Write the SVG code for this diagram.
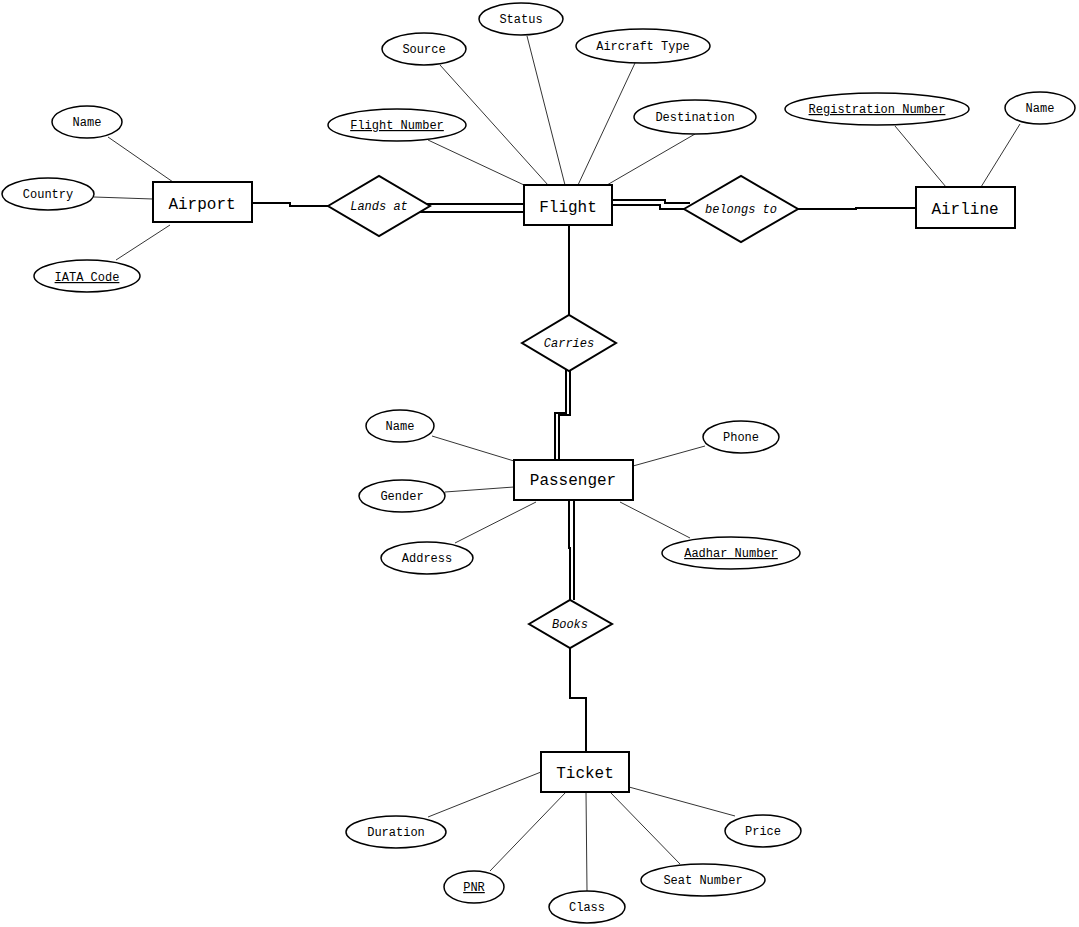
<svg xmlns="http://www.w3.org/2000/svg" width="1079" height="927" viewBox="0 0 1079 927">
<style>
.e rect{fill:#fff;stroke:#000;stroke-width:2}
.e text{font-family:"Liberation Mono",monospace;font-size:16px;text-anchor:middle}
.r polygon{fill:#fff;stroke:#000;stroke-width:2}
.r text{font-family:"Liberation Mono",monospace;font-size:12px;font-style:italic;text-anchor:middle}
.a ellipse{fill:#fff;stroke:#000;stroke-width:1.5}
.a text{font-family:"Liberation Mono",monospace;font-size:12px;text-anchor:middle}
.k{text-decoration:underline}
.thin line{stroke:#000;stroke-width:0.8}
.thick{fill:none;stroke:#000;stroke-width:2}
</style>
<rect width="1079" height="927" fill="#fff"/>
<g id="connectors">
<g class="thin">
<line x1="108" y1="137" x2="173" y2="182"/><line x1="94" y1="197" x2="153" y2="199"/><line x1="116" y1="260" x2="170" y2="225"/>
<line x1="440" y1="65" x2="548" y2="185"/><line x1="527" y1="36" x2="565" y2="185"/><line x1="635" y1="63" x2="578" y2="185"/><line x1="695" y1="134" x2="607" y2="185"/><line x1="428" y1="140" x2="524" y2="185"/>
<line x1="895" y1="126" x2="946" y2="187"/><line x1="1020" y1="124" x2="981" y2="187"/>
<line x1="432" y1="436" x2="514" y2="461"/><line x1="705" y1="446" x2="633" y2="466"/><line x1="445" y1="492" x2="514" y2="487"/><line x1="455" y1="543" x2="536" y2="502"/><line x1="690" y1="538" x2="620" y2="502"/>
<line x1="428" y1="817" x2="541" y2="772"/><line x1="490" y1="871" x2="566" y2="792"/><line x1="587" y1="891" x2="586" y2="792"/><line x1="680" y1="864" x2="610" y2="792"/><line x1="735" y1="816" x2="629" y2="787"/>
</g>
<path class="thick" d="M252,203 H290 V206 H328"/>
<path class="thick" d="M418,204 H524 M412,212 H524"/>
<path class="thick" d="M612,200 H665 V203 H690 M612,205 H660 V209 H685"/>
<path class="thick" d="M798,209 H856 V208 H916"/>
<path class="thick" d="M569,225 V315"/>
<path class="thick" d="M566,368 V413 H555 V460 M570,368 V415 H559 V460"/>
<path class="thick" d="M569,500 V548 H570 V600 M574,500 V600"/>
<path class="thick" d="M570,648 V698 H586 V752"/>
</g>
<g id="Airport" class="e"><rect x="153" y="182" width="99" height="40"/><text x="202" y="209">Airport</text></g>
<g id="Flight" class="e"><rect x="524" y="185" width="88" height="40"/><text x="568" y="212">Flight</text></g>
<g id="Airline" class="e"><rect x="916" y="187" width="99" height="41"/><text x="965" y="214">Airline</text></g>
<g id="Passenger" class="e"><rect x="514" y="460" width="119" height="40"/><text x="573" y="485">Passenger</text></g>
<g id="Ticket" class="e"><rect x="541" y="752" width="88" height="40"/><text x="585" y="778">Ticket</text></g>
<g id="LandsAt" class="r"><polygon points="328,206 379,176 430,206 379,236"/><text x="379" y="210">Lands at</text></g>
<g id="BelongsTo" class="r"><polygon points="684,209 741,176 798,209 741,242"/><text x="741" y="213">belongs to</text></g>
<g id="Carries" class="r"><polygon points="522,343 569,315 616,343 569,371"/><text x="569" y="347">Carries</text></g>
<g id="Books" class="r"><polygon points="529,624 570,600 612,624 570,648"/><text x="570" y="628">Books</text></g>
<g id="AirportName" class="a"><ellipse cx="87" cy="122" rx="35" ry="16"/><text x="87" y="126">Name</text></g>
<g id="Country" class="a"><ellipse cx="48" cy="194" rx="46" ry="16"/><text x="48" y="198">Country</text></g>
<g id="IATA" class="a"><ellipse cx="87" cy="276" rx="53" ry="16"/><text x="87" y="281" class="k">IATA Code</text></g>
<g id="Source" class="a"><ellipse cx="424" cy="49" rx="42" ry="16"/><text x="424" y="53">Source</text></g>
<g id="Status" class="a"><ellipse cx="521" cy="19" rx="42" ry="16"/><text x="521" y="23">Status</text></g>
<g id="AircraftType" class="a"><ellipse cx="643" cy="46" rx="67" ry="17"/><text x="643" y="50">Aircraft Type</text></g>
<g id="Destination" class="a"><ellipse cx="695" cy="117" rx="61" ry="17"/><text x="695" y="121">Destination</text></g>
<g id="FlightNumber" class="a"><ellipse cx="397" cy="125" rx="69" ry="16"/><text x="397" y="129" class="k">Flight Number</text></g>
<g id="RegNumber" class="a"><ellipse cx="877" cy="109" rx="92" ry="16"/><text x="877" y="113" class="k">Registration Number</text></g>
<g id="AirlineName" class="a"><ellipse cx="1040" cy="108" rx="35" ry="16"/><text x="1040" y="112">Name</text></g>
<g id="PassengerName" class="a"><ellipse cx="400" cy="426" rx="34" ry="16"/><text x="400" y="430">Name</text></g>
<g id="Phone" class="a"><ellipse cx="741" cy="437" rx="38" ry="16"/><text x="741" y="441">Phone</text></g>
<g id="Gender" class="a"><ellipse cx="402" cy="496" rx="43" ry="16"/><text x="402" y="500">Gender</text></g>
<g id="Address" class="a"><ellipse cx="427" cy="558" rx="46" ry="16"/><text x="427" y="562">Address</text></g>
<g id="Aadhar" class="a"><ellipse cx="731" cy="553" rx="69" ry="16"/><text x="731" y="557" class="k">Aadhar Number</text></g>
<g id="Duration" class="a"><ellipse cx="396" cy="832" rx="50" ry="16"/><text x="396" y="836">Duration</text></g>
<g id="PNR" class="a"><ellipse cx="474" cy="887" rx="30" ry="16"/><text x="474" y="891" class="k">PNR</text></g>
<g id="Class" class="a"><ellipse cx="587" cy="907" rx="38" ry="16"/><text x="587" y="911">Class</text></g>
<g id="SeatNumber" class="a"><ellipse cx="703" cy="880" rx="62" ry="16"/><text x="703" y="884">Seat Number</text></g>
<g id="Price" class="a"><ellipse cx="763" cy="831" rx="38" ry="16"/><text x="763" y="835">Price</text></g>
</svg>
